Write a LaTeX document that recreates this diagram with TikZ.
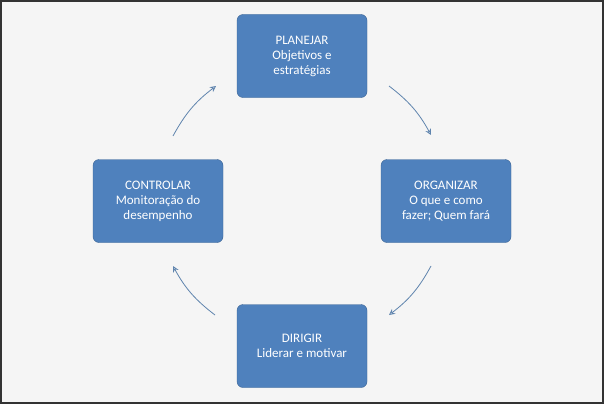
\documentclass[tikz,border=0pt]{standalone}
\usepackage{fontspec}
\setmainfont{Carlito}
\usetikzlibrary{arrows.meta}
\definecolor{boxblue}{HTML}{4F81BD}
\definecolor{boxline}{HTML}{3A6393}
\definecolor{arrblue}{HTML}{5F84AE}
\begin{document}
\begin{tikzpicture}[x=1pt,y=-1pt,step box/.style={draw=boxline,fill=boxblue,rounded corners=6pt,minimum width=130pt,minimum height=83pt,text=white,align=center,font=\fontsize{13}{15}\selectfont},cyc/.style={draw=arrblue,thick,-{Stealth[open,length=6pt,width=6pt]}}]
\useasboundingbox (0,0) rectangle (604,404);
\fill[gray!8] (0,0) rectangle (604,404);
\draw[black!80,line width=2pt] (1,1) rectangle (603,403);

\node[step box] (P) at (302,56) {PLANEJAR\\Objetivos e\\estratégias};
\node[step box] (O) at (446,201) {ORGANIZAR\\O que e como\\fazer; Quem fará};
\node[step box] (D) at (302,346) {DIRIGIR\\Liderar  e motivar};
\node[step box] (C) at (158,201) {CONTROLAR\\Monitoração do\\desempenho};

\coordinate (p1) at (389,86);
\coordinate (o0) at (431,135);
\coordinate (o1) at (431,266);
\coordinate (d0) at (389,315);
\coordinate (d1) at (215,315);
\coordinate (c0) at (173,266);
\coordinate (c1) at (173,136);
\coordinate (p0) at (216,86);

\draw[cyc] (p1) to[bend left=12] (o0);
\draw[cyc] (o1) to[bend left=12] (d0);
\draw[cyc] (d1) to[bend left=12] (c0);
\draw[cyc] (c1) to[bend left=12] (p0);
\end{tikzpicture}
\end{document}
